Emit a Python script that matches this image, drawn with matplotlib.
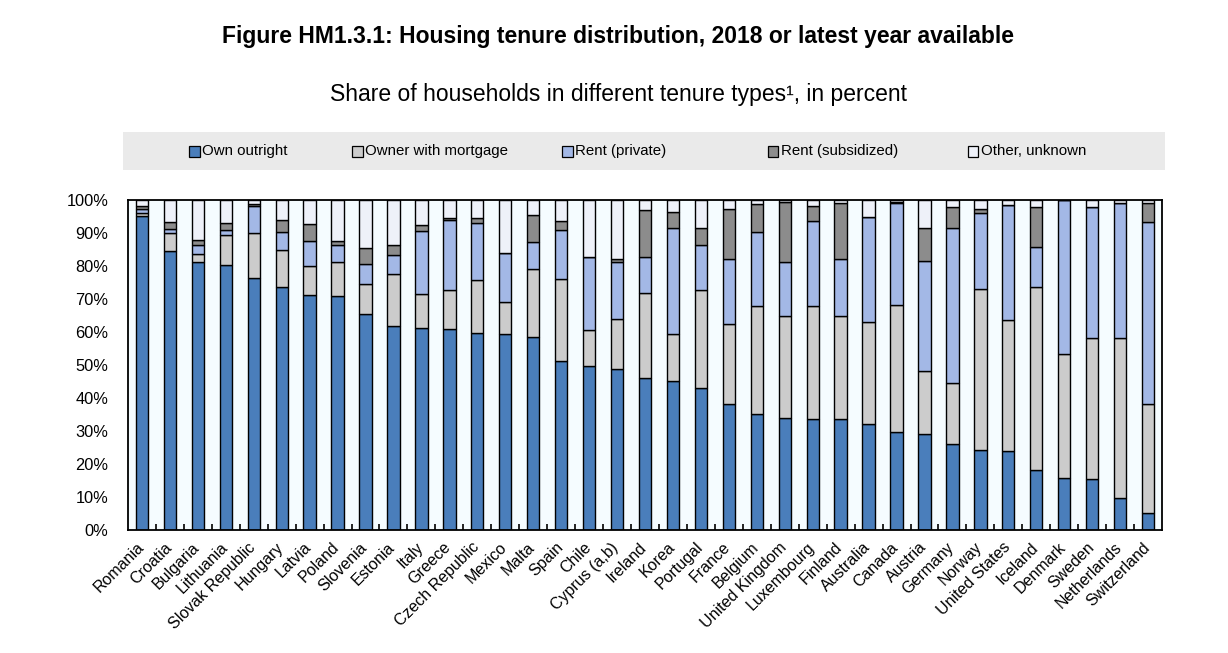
import matplotlib
matplotlib.use('Agg')
import matplotlib.pyplot as plt
from matplotlib.patches import Rectangle
import matplotlib.transforms as mtransforms
import numpy as np

plt.rcParams['font.family'] = ['Liberation Sans', 'DejaVu Sans']

countries = ['Romania', 'Croatia', 'Bulgaria', 'Lithuania', 'Slovak Republic', 'Hungary', 'Latvia',
             'Poland', 'Slovenia', 'Estonia', 'Italy', 'Greece', 'Czech Republic', 'Mexico', 'Malta',
             'Spain', 'Chile', 'Cyprus (a,b)', 'Ireland', 'Korea', 'Portugal', 'France', 'Belgium',
             'United Kingdom', 'Luxembourg', 'Finland', 'Australia', 'Canada', 'Austria', 'Germany',
             'Norway', 'United States', 'Iceland', 'Denmark', 'Sweden', 'Netherlands', 'Switzerland']

own_outright = [95.1, 84.6, 81.3, 80.3, 76.5, 73.6, 71.1, 70.9, 65.5, 61.9, 61.2, 60.9, 59.7, 59.4, 58.6,
                51.3, 49.7, 48.7, 46.0, 45.0, 42.9, 38.3, 35.0, 34.0, 33.7, 33.5, 32.2, 29.7, 29.1, 26.1,
                24.1, 23.8, 18.3, 15.9, 15.5, 9.6, 5.1]
mortgage = [1.1, 5.4, 2.3, 9.0, 13.5, 11.4, 8.9, 10.3, 9.1, 15.8, 10.4, 11.7, 16.1, 9.8, 20.6,
            24.8, 11.0, 15.3, 25.9, 14.4, 29.7, 24.1, 33.0, 31.0, 34.3, 31.2, 30.7, 38.5, 19.1, 18.4,
            49.0, 39.9, 55.3, 37.4, 42.6, 48.5, 33.2]
rent_private = [1.1, 1.2, 2.7, 1.6, 8.3, 5.2, 7.6, 5.1, 6.1, 5.5, 19.0, 21.3, 17.3, 14.6, 8.1,
                14.8, 22.0, 17.2, 10.7, 32.2, 13.7, 19.8, 22.2, 16.2, 25.7, 17.3, 32.0, 30.8, 33.2, 46.9,
                23.0, 34.8, 12.2, 46.7, 39.9, 41.1, 55.1]
rent_subsidized = [1.0, 2.2, 1.5, 2.1, 0.5, 3.7, 5.0, 1.3, 4.8, 3.3, 1.8, 0.5, 1.3, 0.0, 8.1,
                   2.8, 0.0, 1.0, 14.3, 4.8, 5.1, 15.0, 8.6, 18.1, 4.5, 17.0, 0.0, 0.3, 10.0, 6.6,
                   1.1, 0.0, 12.0, 0.0, 0.0, 0.0, 5.6]
other = [1.7, 6.6, 12.2, 7.0, 1.2, 6.1, 7.4, 12.4, 14.5, 13.5, 7.6, 5.6, 5.6, 16.2, 4.6,
         6.3, 17.3, 17.8, 3.1, 3.6, 8.6, 2.8, 1.2, 0.7, 1.8, 1.0, 5.1, 0.7, 8.6, 2.0,
         2.8, 1.5, 2.2, 0.0, 2.0, 0.8, 1.0]

series = [own_outright, mortgage, rent_private, rent_subsidized, other]
labels = ['Own outright', 'Owner with mortgage', 'Rent (private)', 'Rent (subsidized)', 'Other, unknown']
colors = ['#4A7EBB', '#CCCCCC', '#A3B8E6', '#8C8C8C', '#EEF1F9']

fig = plt.figure(figsize=(12.28, 6.53), dpi=100)
ax = fig.add_axes([0.1042, 0.1884, 0.8421, 0.5053])
ax.set_facecolor('#F5FCFF')

x = np.arange(len(countries))
bottom = np.zeros(len(countries))
for vals, col in zip(series, colors):
    vals = np.array(vals)
    ax.bar(x, vals, bottom=bottom, width=0.44, color=col, edgecolor='black', linewidth=1.0, zorder=3)
    bottom += vals

ax.set_xlim(-0.5, len(countries) - 0.5)
ax.set_ylim(0, 100)
ax.set_yticks(np.arange(0, 101, 10))
ax.set_yticklabels([f'{v}%' for v in range(0, 101, 10)], fontsize=11.8)
ax.set_xticks(x)
ax.set_xticklabels(countries, rotation=45, ha='right', rotation_mode='anchor', fontsize=11.5)
ax.tick_params(axis='x', length=0, pad=7)
ax.tick_params(axis='y', length=0, pad=14)
ax.set_xticks(x[:-1] + 0.5, minor=True)
ax.tick_params(axis='x', which='minor', direction='in', length=4, width=1.2, color='black')
for s in ax.spines.values():
    s.set_linewidth(1.3)
    s.set_zorder(5)

shift = mtransforms.ScaledTranslation(-6 / 100, 0, fig.dpi_scale_trans)
for lab in ax.get_xticklabels():
    lab.set_transform(lab.get_transform() + shift)

# legend band
fig.patches.append(Rectangle((0.100, 0.7397), 0.849, 0.0582, transform=fig.transFigure,
                             facecolor='#EAEAEA', edgecolor='none', zorder=0))
sq_x = [189, 352, 562, 768, 968]
for px, lab, col in zip(sq_x, labels, colors):
    fig.patches.append(Rectangle((px / 1228, 1 - 156.5 / 653), 10.5 / 1228, 10.5 / 653,
                                 transform=fig.transFigure, facecolor=col, edgecolor='black',
                                 linewidth=0.9, zorder=2))
    fig.text((px + 13) / 1228, 1 - 151 / 653, lab, fontsize=10.8, va='center', ha='left')

fig.text(0.5035, 1 - 36 / 653, 'Figure HM1.3.1: Housing tenure distribution, 2018 or latest year available',
         fontsize=16.5, fontweight='bold', ha='center', va='center')
fig.text(0.5035, 1 - 95 / 653, 'Share of households in different tenure types\u00b9, in percent',
         fontsize=16.5, ha='center', va='center')

fig.savefig('out.png', dpi=100, facecolor='white')
